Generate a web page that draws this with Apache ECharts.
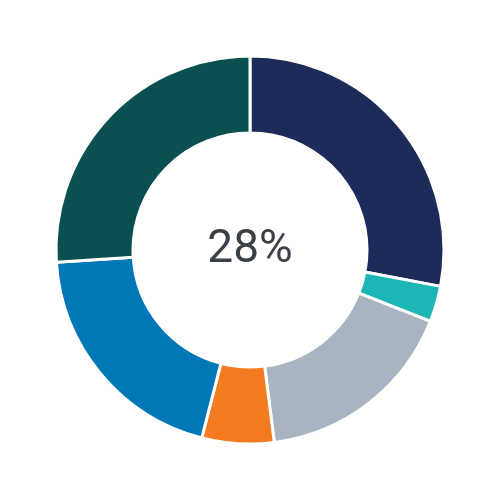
<!DOCTYPE html>
<html><head><meta charset="utf-8">
<script src="https://cdn.jsdelivr.net/npm/echarts@6/dist/echarts.min.js"></script>
<style>html,body{margin:0;padding:0;background:#fff}#c{width:500px;height:500px}</style>
</head><body><div id="c"></div>
<script>
const categories = ['A','B','C','D','E','F'];
const values = [28, 3, 17, 6, 20, 26];
const colors = ['#1c2b5a','#1cb6b7','#a9b4c3','#f47b20','#0077b6','#0a5050'];
const centerLabel = '28%';
const chart = echarts.init(document.getElementById('c'), null, {renderer:'canvas'});
chart.setOption({
  animation:false,
  title:{text:centerLabel,left:'center',top:'middle',textStyle:{fontFamily:'Roboto',fontWeight:'normal',fontSize:46,color:'#3b3f46'}},
  series:[{
    type:'pie',
    radius:[117,194],
    center:[250,250],
    startAngle:90,
    clockwise:true,
    label:{show:false},
    labelLine:{show:false},
    itemStyle:{borderColor:'#fff',borderWidth:3},
    data:categories.map((c,i)=>({name:c,value:values[i],itemStyle:{color:colors[i]}}))
  }]
});
</script></body></html>
